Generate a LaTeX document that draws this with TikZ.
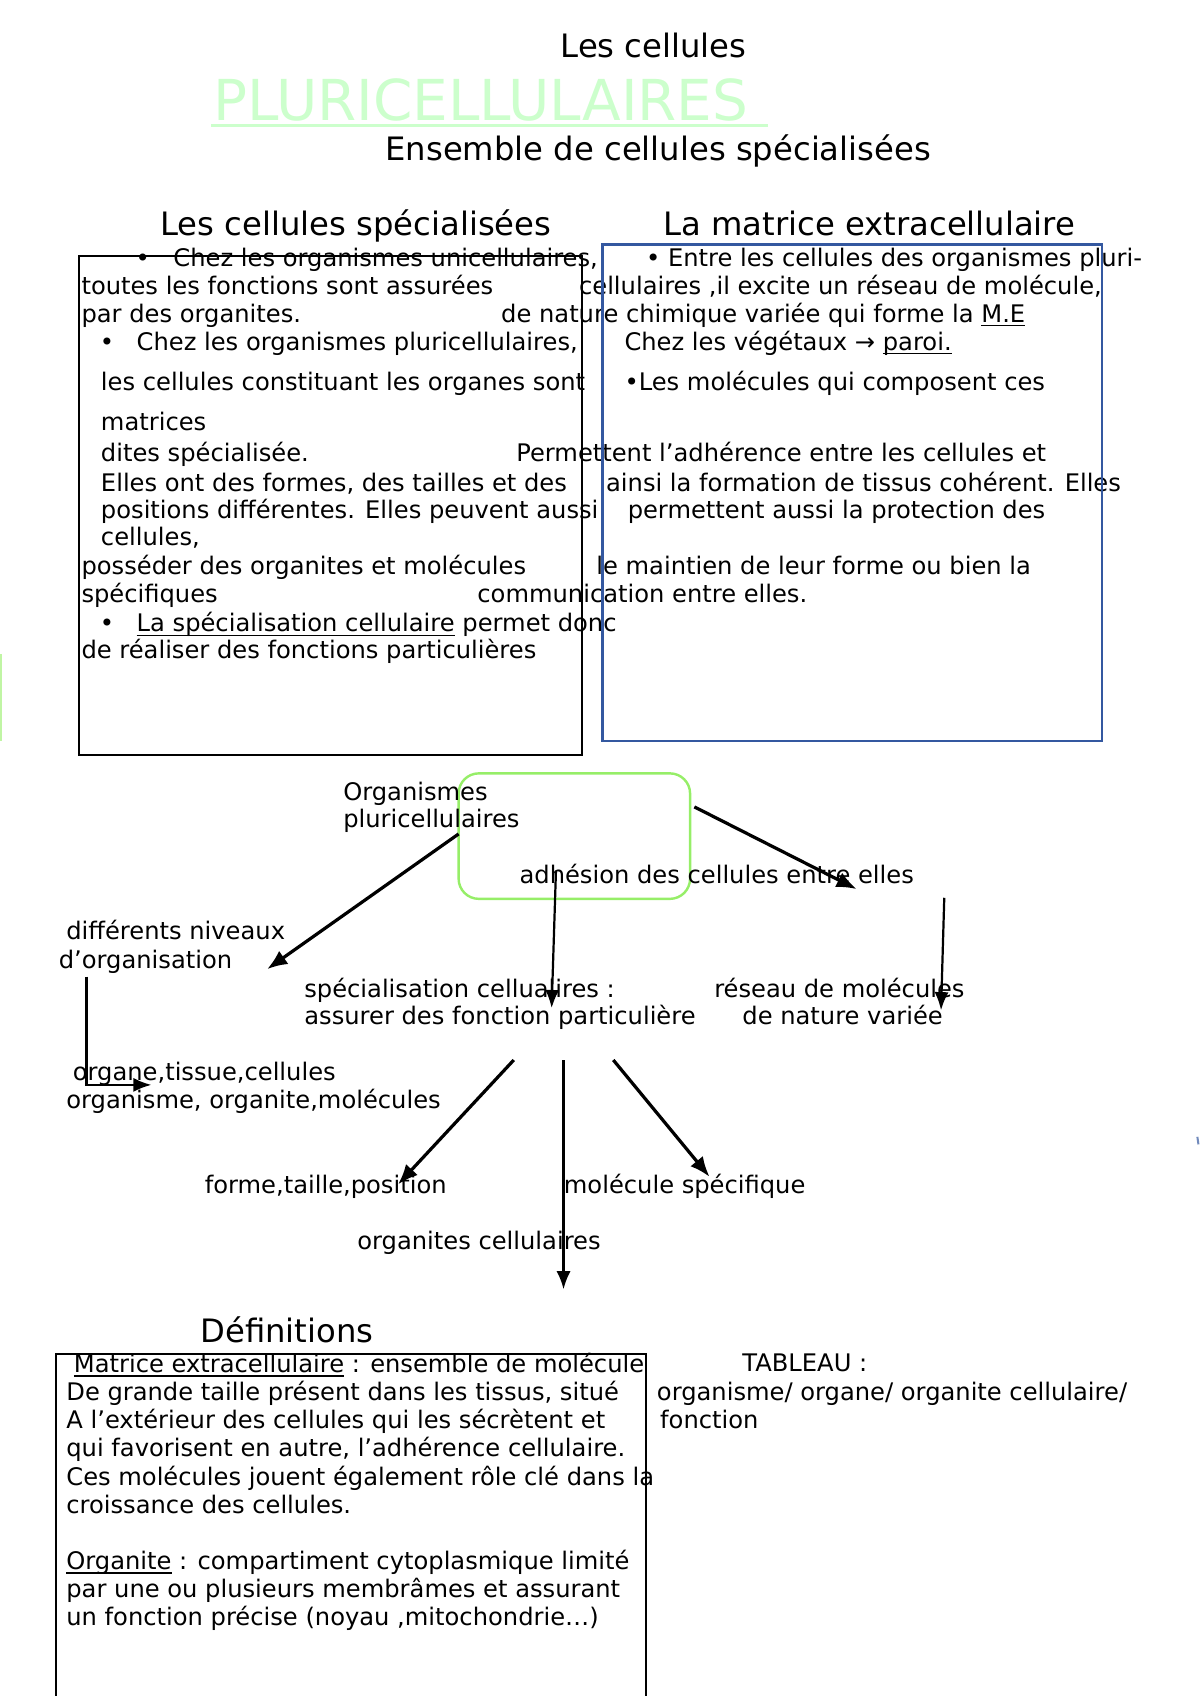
\documentclass[tikz,border=0pt]{standalone}
\usepackage{fontspec}
\setmainfont{DejaVu Sans}
\usetikzlibrary{arrows.meta}
\definecolor{titlegreen}{RGB}{204,255,204}
\definecolor{boxblue}{RGB}{52,88,160}
\definecolor{boxgreen}{RGB}{150,238,104}
\newcommand\undl[1]{\setbox0\hbox{#1}\rlap{\rule[-2pt]{\wd0}{0.6pt}}\box0\relax}
\tikzset{line node/.style={anchor=base west,inner sep=0pt,font=\fontsize{12}{14}\selectfont},
  head node/.style={anchor=base west,inner sep=0pt,font=\fontsize{16}{18}\selectfont},
  big arrow/.style={draw,line width=1.6pt,-{Latex[length=10pt,width=8pt]}},
  thin arrow/.style={draw,line width=1.1pt,-{Latex[length=9pt,width=7pt]}},}

\begin{document}
\begin{tikzpicture}[x=0.5367pt,y=-0.5367pt]
  \useasboundingbox (0,0) rectangle (1109,1568);
  %% Titles
  \node[head node] (t1) at (518,53) {Les cellules};
  \node[anchor=base west,inner sep=0pt,font=\fontsize{28}{32}\selectfont,text=titlegreen] (t2) at (197,111) {PLURICELLULAIRES};
  \draw[titlegreen,line width=1.5pt] (195,116) -- (710,116);
  \node[head node] (t3) at (356,148) {Ensemble de cellules spécialisées};
  \node[head node] (h1) at (148,218) {Les cellules spécialisées};
  \node[head node] (h2) at (613,218) {La matrice extracellulaire};
  %% Left box
  \node[line node] (lb1) at (125,246) {•};
  \node[line node] (l1) at (160,246) {Chez les organismes unicellulaires,};
  \node[line node] (l2) at (75,272) {toutes les fonctions sont assurées};
  \node[line node] (l3) at (75,298) {par des organites.};
  \node[line node] (lb2) at (92,324) {•};
  \node[line node] (l4) at (126,324) {Chez les organismes pluricellulaires,};
  \node[line node] (l5) at (93,361) {les cellules constituant les organes sont};
  \node[line node] (l6) at (93,398) {matrices};
  \node[line node] (l7) at (93,427) {dites spécialisée.};
  \node[line node] (l8) at (93,454) {Elles ont des formes, des tailles et des};
  \node[line node] (l9) at (93,479) {positions différentes. Elles peuvent aussi};
  \node[line node] (l10) at (93,504) {cellules,};
  \node[line node] (l11) at (75,531) {posséder des organites et molécules};
  \node[line node] (l12) at (75,557) {spécifiques};
  \node[line node] (lb3) at (92,584) {•};
  \node[line node] (l13) at (126,584) {\undl{La spécialisation cellulaire} permet donc};
  \node[line node] (l14) at (75,609) {de réaliser des fonctions particulières};
  \draw[line width=1.1pt] (73,237) rectangle (538,698);
  %% Right box
  \node[line node] (r1) at (597,246) {• Entre les cellules des organismes pluri-};
  \node[line node] (r2) at (535,272) {cellulaires ,il excite un réseau de molécule,};
  \node[line node] (r3) at (463,298) {de nature chimique variée qui forme la \undl{M.E}};
  \node[line node] (r4) at (577,324) {Chez les végétaux → \undl{paroi.}};
  \node[line node] (r5) at (577,361) {•Les molécules qui composent ces};
  \node[line node] (r6) at (477,427) {Permettent l’adhérence entre les cellules et};
  \node[line node] (r7) at (560,454) {ainsi la formation de tissus cohérent. Elles};
  \node[line node] (r8) at (580,479) {permettent aussi la protection des};
  \node[line node] (r9) at (551,531) {le maintien de leur forme ou bien la};
  \node[line node] (r10) at (441,557) {communication entre elles.};
  \draw[boxblue,line width=1.1pt] (557,226) rectangle (1019,685);
  \draw[boxgreen!60,line width=1.1pt] (1,605) -- (1,685);
  %% Scheme
  \draw[boxgreen,line width=1.2pt,rounded corners=10pt] (424,715) rectangle (638,831);
  \node[line node] (o1) at (317,740) {Organismes};
  \node[line node] (o2) at (317,765) {pluricellulaires};
  \node[line node] (ad) at (480,817) {adhésion des cellules entre elles};
  \node[line node] (n1) at (61,869) {différents niveaux};
  \node[line node] (n2) at (54,895) {d’organisation};
  \node[line node] (s1) at (281,922) {spécialisation cellualires :};
  \node[line node] (s2) at (281,947) {assurer des fonction particulière};
  \node[line node] (m1) at (660,922) {réseau de molécules};
  \node[line node] (m2) at (686,947) {de nature variée};
  \node[line node] (g1) at (67,999) {organe,tissue,cellules};
  \node[line node] (g2) at (61,1025) {organisme, organite,molécules};
  \node[line node] (f1) at (189,1103) {forme,taille,position};
  \node[line node] (f2) at (521,1103) {molécule spécifique};
  \node[line node] (f3) at (330,1155) {organites cellulaires};
  %% Points
  \coordinate (a1) at (424,771); \coordinate (b1) at (247,896);
  \coordinate (a2) at (642,746); \coordinate (b2) at (792,822);
  \coordinate (a3) at (514,805); \coordinate (b3) at (510,932);
  \coordinate (a4) at (873,830); \coordinate (b4) at (870,934);
  \coordinate (a5) at (80,903);  \coordinate (b5) at (140,1003);
  \coordinate (a6) at (475,980); \coordinate (b6) at (368,1095);
  \coordinate (a7) at (521,980); \coordinate (b7) at (521,1192);
  \coordinate (a8) at (567,980); \coordinate (b8) at (656,1088);
  %% Paths
  \path
    (a1) edge[big arrow] (b1)
    (a2) edge[big arrow] (b2)
    (a6) edge[big arrow] (b6)
    (a8) edge[big arrow] (b8)
    (a3) edge[thin arrow] (b3)
    (a4) edge[thin arrow] (b4)
    (a7) edge[thin arrow] (b7);
  \draw[thin arrow] (a5) |- (b5);
  \draw[boxblue!70,line width=1pt] (1107,1051) -- (1108,1058);
  %% Definitions
  \node[head node] (d0) at (185,1241) {Définitions};
  \node[line node] (d1) at (68,1269) {\undl{Matrice extracellulaire} : ensemble de molécule};
  \node[line node] (d2) at (61,1295) {De grande taille présent dans les tissus, situé};
  \node[line node] (d3) at (61,1321) {A l’extérieur des cellules qui les sécrètent et};
  \node[line node] (d4) at (61,1347) {qui favorisent en autre, l’adhérence cellulaire.};
  \node[line node] (d5) at (61,1373) {Ces molécules jouent également rôle clé dans la};
  \node[line node] (d6) at (61,1399) {croissance des cellules.};
  \node[line node] (d7) at (61,1451) {\undl{Organite} : compartiment cytoplasmique limité};
  \node[line node] (d8) at (61,1477) {par une ou plusieurs membrâmes et assurant};
  \node[line node] (d9) at (61,1503) {un fonction précise (noyau ,mitochondrie…)};
  \draw[line width=1.1pt] (52,1575) -- (52,1252) -- (597,1252) -- (597,1575);
  \node[line node] (tb1) at (686,1268) {TABLEAU :};
  \node[line node] (tb2) at (607,1295) {organisme/ organe/ organite cellulaire/};
  \node[line node] (tb3) at (610,1321) {fonction};
\end{tikzpicture}
\end{document}
